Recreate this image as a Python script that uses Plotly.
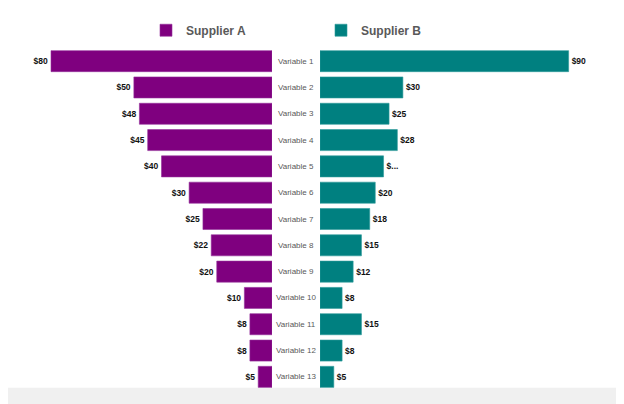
import plotly.graph_objects as go

categories = ["Variable 1", "Variable 2", "Variable 3", "Variable 4", "Variable 5",
              "Variable 6", "Variable 7", "Variable 8", "Variable 9", "Variable 10",
              "Variable 11", "Variable 12", "Variable 13"]
supplier_a = [80, 50, 48, 45, 40, 30, 25, 22, 20, 10, 8, 8, 5]
supplier_b = [90, 30, 25, 28, 23, 20, 18, 15, 12, 8, 15, 8, 5]
labels_a = ["$%d" % v for v in supplier_a]
labels_b = ["$%d" % v for v in supplier_b]
labels_b[4] = "$..."

W, H = 624, 404
PX_PER_UNIT = 2.7625
left_x0, left_x1 = 12, 264
right_x0, right_x1 = 312, 596
top, bottom = 39.8, 21.8
plot_h = H - top - bottom

purple = "#7F007F"
teal = "#008080"
label_font = dict(family="Liberation Sans Narrow, Arial Narrow, Arial", size=8.5,
                  color="#111111", weight="bold")

fig = go.Figure()
fig.add_trace(go.Bar(
    y=categories, x=supplier_a, orientation="h", name="Supplier A",
    xaxis="x", yaxis="y", legend="legend",
    marker=dict(color=purple, line=dict(color="#93309a", width=0.6)),
    text=labels_a, textposition="outside", cliponaxis=False,
    textfont=label_font, hoverinfo="x+y",
))
fig.add_trace(go.Bar(
    y=categories, x=supplier_b, orientation="h", name="Supplier B",
    xaxis="x2", yaxis="y", legend="legend2",
    marker=dict(color=teal, line=dict(color="#2e9a9a", width=0.6)),
    text=labels_b, textposition="outside", cliponaxis=False,
    textfont=label_font, hoverinfo="x+y",
))

for c in categories:
    fig.add_annotation(
        x=288 / W, xref="paper", y=c, yref="y", text=c, showarrow=False,
        xanchor="center", yanchor="middle",
        font=dict(family="Arial", size=8, color="#595959"),
    )

fig.add_shape(type="rect", xref="paper", yref="paper", x0=0, x1=1,
              y0=(H - bottom - 380) / plot_h, y1=(H - bottom - 410) / plot_h,
              fillcolor="#f0f0f0", line=dict(width=0), layer="below")

legend_font = dict(family="Arial", size=12, color="#595959", weight="bold")
legend_y = 1 + (top - 22) / plot_h
fig.update_layout(
    width=W, height=H,
    margin=dict(l=0, r=0, t=top, b=bottom, pad=0),
    paper_bgcolor="white", plot_bgcolor="rgba(0,0,0,0)",
    bargap=0.2,
    font=dict(family="Arial"),
    xaxis=dict(domain=[left_x0 / W, left_x1 / W],
               range=[(left_x1 - left_x0) / PX_PER_UNIT, 0],
               visible=False, fixedrange=True),
    xaxis2=dict(domain=[right_x0 / W, right_x1 / W],
                range=[0, (right_x1 - right_x0) / PX_PER_UNIT],
                visible=False, fixedrange=True, anchor="y"),
    yaxis=dict(range=[len(categories) - 0.5, -0.5], visible=False, fixedrange=True),
    showlegend=True,
    legend=dict(x=138 / W, xanchor="left", y=legend_y, yanchor="middle",
                yref="paper", orientation="h", font=legend_font, itemwidth=30,
                bgcolor="rgba(0,0,0,0)"),
    legend2=dict(x=313 / W, xanchor="left", y=legend_y, yanchor="middle",
                 yref="paper", orientation="h", font=legend_font, itemwidth=30,
                 bgcolor="rgba(0,0,0,0)"),
)

fig.write_html("out.html")
